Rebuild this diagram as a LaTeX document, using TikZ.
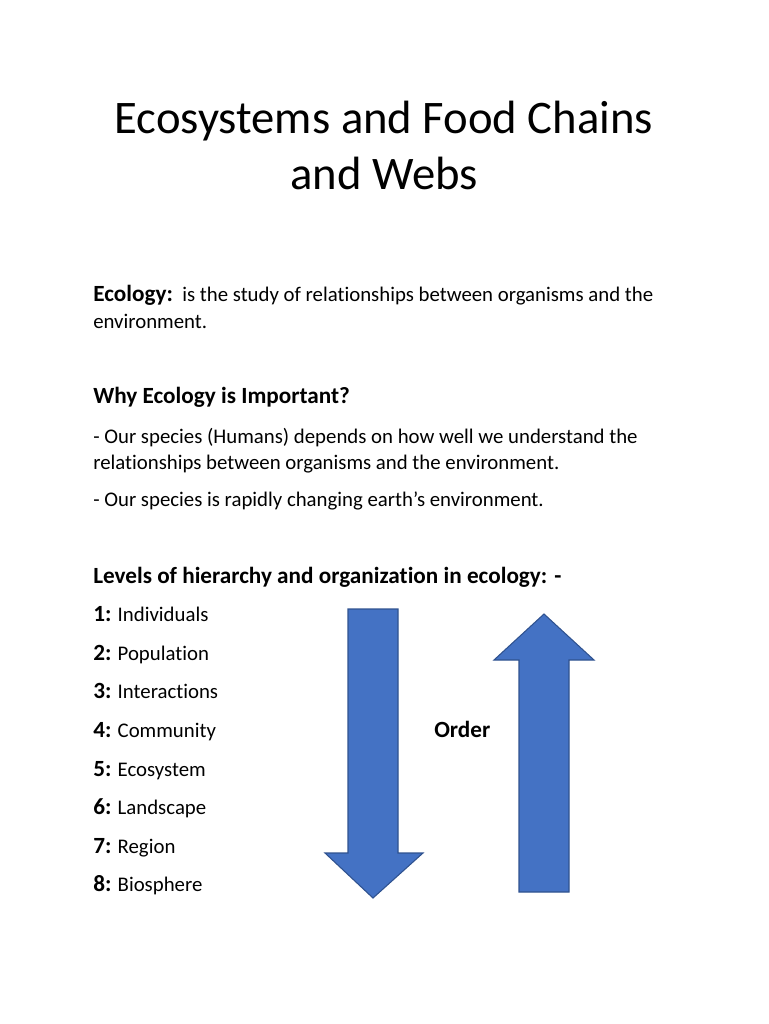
\documentclass[tikz,border=0pt]{standalone}
\usepackage{fontspec}
\setmainfont[Ligatures={NoCommon}]{Carlito}
\begin{document}
\begin{tikzpicture}[x=0.75pt,y=-0.75pt,
  body/.style={anchor=base west,inner sep=0pt,font=\fontsize{15.6pt}{18pt}\selectfont},
  head/.style={anchor=base west,inner sep=0pt,font=\fontsize{17.4pt}{20pt}\selectfont\bfseries},
  num/.style={anchor=base west,inner sep=0pt,font=\fontsize{15.6pt}{18pt}\selectfont},
  blk/.style={fill=arrowblue,draw=arrowedge,line width=0.8pt,line join=miter}]
\definecolor{arrowblue}{HTML}{4472C4}
\definecolor{arrowedge}{HTML}{2F528F}
\useasboundingbox (0,0) rectangle (768,1024);
\node[inner sep=0pt,align=center,font=\fontsize{35pt}{42pt}\selectfont] (title) at (384,145) {Ecosystems and Food Chains\\and Webs};
\node[body] (eco) at (93,301) {{\fontsize{17.4pt}{20pt}\selectfont\bfseries Ecology:}\ \ is the study of relationships between organisms and the};
\node[body] (eco2) at (93,328) {environment.};
\node[head] (why) at (93,403) {Why Ecology is Important?};
\node[body] (p1) at (93,443) {- Our species (Humans) depends on how well we understand the};
\node[body] (p1b) at (93,469) {relationships between organisms and the environment.};
\node[body] (p2) at (93,506) {- Our species is rapidly changing earth’s environment.};
\node[head] (lev) at (93,583) {Levels of hierarchy and organization in ecology: -};
\foreach \n/\t/\y in {1/Individuals/615,2/Population/654,3/Interactions/692,4/Community/731,5/Ecosystem/770,6/Landscape/808,7/Region/847,8/Biosphere/885}{
  \node[num] (l\n) at (93,\y+6) {{\fontsize{17.4pt}{20pt}\selectfont\bfseries \n:} \t};
}
\node[head] (order) at (434,737) {Order};
\draw[blk] (348,609) -- (398,609) -- (398,853) -- (423,853) -- (373,898) -- (325,853) -- (348,853) -- cycle;
\draw[blk] (519,892) -- (569,892) -- (569,660) -- (594,660) -- (544,614) -- (494,660) -- (519,660) -- cycle;
\end{tikzpicture}
\end{document}
